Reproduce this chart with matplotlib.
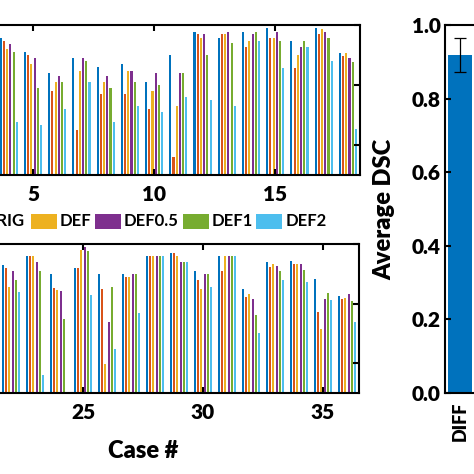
import matplotlib
matplotlib.use('Agg')
import matplotlib.pyplot as plt
from matplotlib.patches import Rectangle
import numpy as np

plt.rcParams['font.family'] = ['Lato', 'DejaVu Sans']
plt.rcParams['font.weight'] = 'heavy'
plt.rcParams['axes.labelweight'] = 'heavy'
plt.rcParams['axes.linewidth'] = 1.5

series = ['DIFF', 'ORIG', 'DEF', 'DEF0.5', 'DEF1', 'DEF2']
colors = ['#0072BD', '#D95319', '#EDB120', '#7E2F8E', '#77AC30', '#4DBEEE']

# Top panel (cases visible in the crop)
cases_top = list(range(4, 19))
top_diff = [0.958, 0.909, 0.839, 0.889, 0.859, 0.869, 0.809, 0.899, 0.978, 0.958, 0.978, 0.989, 0.948, 0.989, 0.908]
top_orig = [0.948, 0.899, 0.780, 0.649, 0.769, 0.769, 0.719, 0.559, 0.969, 0.969, 0.928, 0.958, 0.858, 0.969, 0.897]
top_def = [0.919, 0.869, 0.809, 0.848, 0.809, 0.848, 0.779, 0.729, 0.958, 0.969, 0.948, 0.958, 0.899, 0.987, 0.907]
top_def05 = [0.938, 0.889, 0.829, 0.889, 0.829, 0.848, 0.839, 0.839, 0.969, 0.978, 0.969, 0.978, 0.928, 0.978, 0.889]
top_def1 = [0.909, 0.789, 0.809, 0.879, 0.789, 0.809, 0.799, 0.839, 0.899, 0.939, 0.978, 0.948, 0.948, 0.958, 0.878]
top_def2 = [0.678, 0.668, 0.719, 0.809, 0.678, 0.729, 0.709, 0.759, 0.749, 0.729, 0.948, 0.858, 0.928, 0.879, 0.652]

# Bottom panel
cases_bot = list(range(22, 37))
bot_diff = [0.930, 0.960, 0.900, 0.919, 0.900, 0.900, 0.960, 0.969, 0.910, 0.960, 0.849, 0.938, 0.944, 0.882, 0.826]
bot_orig = [0.919, 0.960, 0.853, 0.919, 0.849, 0.890, 0.960, 0.969, 0.879, 0.910, 0.821, 0.924, 0.933, 0.773, 0.817]
bot_def = [0.857, 0.960, 0.844, 0.980, 0.597, 0.890, 0.960, 0.960, 0.849, 0.960, 0.831, 0.933, 0.933, 0.714, 0.818]
bot_def05 = [0.908, 0.939, 0.842, 0.989, 0.739, 0.900, 0.960, 0.939, 0.900, 0.960, 0.815, 0.927, 0.933, 0.815, 0.833]
bot_def1 = [0.879, 0.910, 0.749, 0.978, 0.857, 0.900, 0.960, 0.939, 0.900, 0.960, 0.762, 0.910, 0.913, 0.835, 0.810]
bot_def2 = [0.840, 0.559, 0.450, 0.829, 0.648, 0.769, 0.960, 0.939, 0.857, 0.960, 0.700, 0.879, 0.874, 0.812, 0.737]

top_xticks = [5, 10, 15]
bot_xticks = [20, 25, 30, 35]
yticks_small = [0.6, 0.8, 1.0]

avg_labels = ['DIFF']
avg_values = [0.918]
avg_err = [0.046]
avg_yticks = [0.0, 0.2, 0.4, 0.6, 0.8, 1.0]

W = H = 474
fig = plt.figure(figsize=(4.74, 4.74), dpi=100)


def frac_box(l, t, r, b):
    return [l / W, 1 - b / H, (r - l) / W, (b - t) / H]


def grouped(ax, cases, data, xlim, xticks):
    n = len(data)
    gw = 0.8
    bw = 0.09
    x = np.array(cases, dtype=float)
    for i, (vals, c) in enumerate(zip(data, colors)):
        off = -gw / 2 + (2 * i + 1) * gw / (2 * n)
        ax.bar(x + off, vals, width=bw, color=c, edgecolor='none')
    ax.set_xlim(*xlim)
    ax.set_ylim(0.5, 1.0)
    ax.set_xticks(xticks)
    ax.set_yticks(yticks_small)
    ax.tick_params(direction='in', length=4, width=1.5, top=True, right=True,
                   labelsize=15, pad=7)


ax1 = fig.add_axes(frac_box(-76, 25, 360, 175))
grouped(ax1, cases_top, [top_diff, top_orig, top_def, top_def05, top_def1, top_def2],
        (0.5, 18.5), top_xticks)

ax2 = fig.add_axes(frac_box(-73, 244, 359, 393))
grouped(ax2, cases_bot, [bot_diff, bot_orig, bot_def, bot_def05, bot_def1, bot_def2],
        (18.5, 36.5), bot_xticks)
ax2.set_xlabel('Case #', fontsize=17, labelpad=13)

ax3 = fig.add_axes(frac_box(445, 25, 625, 393))
xa = np.arange(1, len(avg_labels) + 1)
ax3.bar(xa, avg_values, width=0.77, color=colors[0], edgecolor='none')
ax3.errorbar(xa, avg_values, yerr=avg_err, fmt='none', ecolor='black',
             elinewidth=0.9, capsize=4.5, capthick=0.9)
ax3.set_xlim(0.5, 6.5)
ax3.set_ylim(0, 1.0)
ax3.set_yticks(avg_yticks)
ax3.set_yticklabels([f'{v:.1f}' for v in avg_yticks])
ax3.set_xticks(xa)
ax3.set_xticklabels(avg_labels, rotation=90)
ax3.tick_params(axis='y', direction='in', length=4, width=1.5, labelsize=15, pad=3)
ax3.tick_params(axis='x', direction='in', length=0, labelsize=13, pad=6)
ax3.set_ylabel('Average DSC', fontsize=17)
ax3.yaxis.set_label_coords((395 - 445) / 180, 0.5)

# Legend row (laid out by hand, positions in pixels)
leg_patch_left = [-110, -46, 31, 95, 183, 256]
leg_text_anchor = [(-50, 'right'), (25, 'right'), (60, 'left'), (124, 'left'),
                   (212, 'left'), (286, 'left')]
leg_y_top, leg_y_bot, patch_w = 214, 229, 26
for name, c, px, (tx, ha) in zip(series, colors, leg_patch_left, leg_text_anchor):
    fig.patches.append(Rectangle((px / W, 1 - leg_y_bot / H), patch_w / W,
                                 (leg_y_bot - leg_y_top) / H,
                                 transform=fig.transFigure, facecolor=c,
                                 edgecolor='none'))
    fig.text(tx / W, 1 - (leg_y_top + leg_y_bot) / 2 / H, name, ha=ha,
             va='center', fontsize=12, fontweight='bold')

fig.savefig('out.png', dpi=100)
